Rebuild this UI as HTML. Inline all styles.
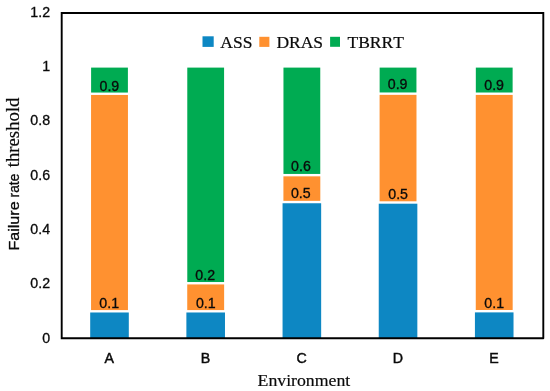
<!DOCTYPE html>
<html><head><meta charset="utf-8"><title>Failure rate threshold</title>
<style>html,body{margin:0;padding:0;background:#fff}svg{display:block}.s{font-family:'Liberation Sans',sans-serif;font-size:14.2px;fill:#0a0a0a;stroke:#0a0a0a;stroke-width:0.3px}.r{font-family:'Liberation Serif',serif;font-kerning:none;fill:#0a0a0a;stroke:#0a0a0a;stroke-width:0.2px}</style></head><body>
<svg width="550" height="391" viewBox="0 0 550 391">
<rect width="550" height="391" fill="#fff"/>
<rect x="90.20" y="312.49" width="38.60" height="25.76" fill="#0d87c3"/>
<rect x="91.05" y="94.96" width="36.90" height="215.13" fill="#ff9130"/>
<rect x="91.10" y="67.60" width="36.80" height="24.96" fill="#00ab52"/>
<rect x="186.38" y="312.49" width="38.60" height="25.76" fill="#0d87c3"/>
<rect x="187.23" y="284.43" width="36.90" height="25.66" fill="#ff9130"/>
<rect x="187.28" y="67.60" width="36.80" height="214.43" fill="#00ab52"/>
<rect x="282.56" y="203.25" width="38.60" height="135.00" fill="#0d87c3"/>
<rect x="283.41" y="176.34" width="36.90" height="24.51" fill="#ff9130"/>
<rect x="283.46" y="67.60" width="36.80" height="106.34" fill="#00ab52"/>
<rect x="378.74" y="203.70" width="38.60" height="134.55" fill="#0d87c3"/>
<rect x="379.59" y="94.86" width="36.90" height="106.44" fill="#ff9130"/>
<rect x="379.64" y="67.60" width="36.80" height="24.86" fill="#00ab52"/>
<rect x="474.92" y="312.39" width="38.60" height="25.86" fill="#0d87c3"/>
<rect x="475.77" y="94.91" width="36.90" height="215.08" fill="#ff9130"/>
<rect x="475.82" y="67.60" width="36.80" height="24.91" fill="#00ab52"/>
<path d="M543.3 338.25H61.7V12.95H543.3V338.25" fill="none" stroke="#000" stroke-width="1.9" stroke-linecap="round" stroke-linejoin="miter"/>
<text class="s" x="109.20" y="307.79" text-anchor="middle">0.1</text>
<text class="s" x="109.40" y="91.01" text-anchor="middle">0.9</text>
<text class="s" x="205.78" y="307.69" text-anchor="middle">0.1</text>
<text class="s" x="205.18" y="279.63" text-anchor="middle">0.2</text>
<text class="s" x="300.86" y="198.15" text-anchor="middle">0.5</text>
<text class="s" x="300.96" y="170.74" text-anchor="middle">0.6</text>
<text class="s" x="398.14" y="199.10" text-anchor="middle">0.5</text>
<text class="s" x="397.64" y="89.31" text-anchor="middle">0.9</text>
<text class="s" x="494.22" y="307.79" text-anchor="middle">0.1</text>
<text class="s" x="494.12" y="90.26" text-anchor="middle">0.9</text>
<text class="s" x="50.1" y="343.30" text-anchor="end">0</text>
<text class="s" x="50.1" y="288.24" text-anchor="end">0.2</text>
<text class="s" x="50.1" y="233.88" text-anchor="end">0.4</text>
<text class="s" x="50.1" y="179.72" text-anchor="end">0.6</text>
<text class="s" x="50.1" y="125.36" text-anchor="end">0.8</text>
<text class="s" x="50.1" y="71.10" text-anchor="end">1</text>
<text class="s" x="50.1" y="16.94" text-anchor="end">1.2</text>
<text class="s" x="109.30" y="363.1" text-anchor="middle" style="stroke-width:0.45px">A</text>
<text class="s" x="205.48" y="363.1" text-anchor="middle" style="stroke-width:0.45px">B</text>
<text class="s" x="301.66" y="363.1" text-anchor="middle" style="stroke-width:0.45px">C</text>
<text class="s" x="397.84" y="363.1" text-anchor="middle" style="stroke-width:0.45px">D</text>
<text class="s" x="494.02" y="363.1" text-anchor="middle" style="stroke-width:0.45px">E</text>
<text class="r" x="303.9" y="386.0" text-anchor="middle" style="font-size:17.75px">Environment</text>
<text class="s" transform="translate(18.5,250.6) rotate(-90)" textLength="49.2" lengthAdjust="spacingAndGlyphs" style="font-size:14.9px">Failure</text>
<text class="s" transform="translate(18.5,197.4) rotate(-90)" textLength="23.8" lengthAdjust="spacingAndGlyphs" style="font-size:14.9px">rate</text>
<text class="r" transform="translate(18.6,167.3) rotate(-90)" style="font-size:18.75px">threshold</text>
<rect x="202.5" y="36.3" width="11.2" height="10.6" fill="#0d87c3"/>
<text class="r" x="220.3" y="47.8" style="font-size:17.5px">ASS</text>
<rect x="259.3" y="36.8" width="10.1" height="10.1" fill="#ff9130"/>
<text class="r" x="276.4" y="47.8" style="font-size:17.5px">DRAS</text>
<rect x="330.1" y="36.8" width="9.9" height="10.0" fill="#00ab52"/>
<text class="r" x="347.5" y="47.8" style="font-size:17.5px">TBRRT</text>
</svg></body></html>
